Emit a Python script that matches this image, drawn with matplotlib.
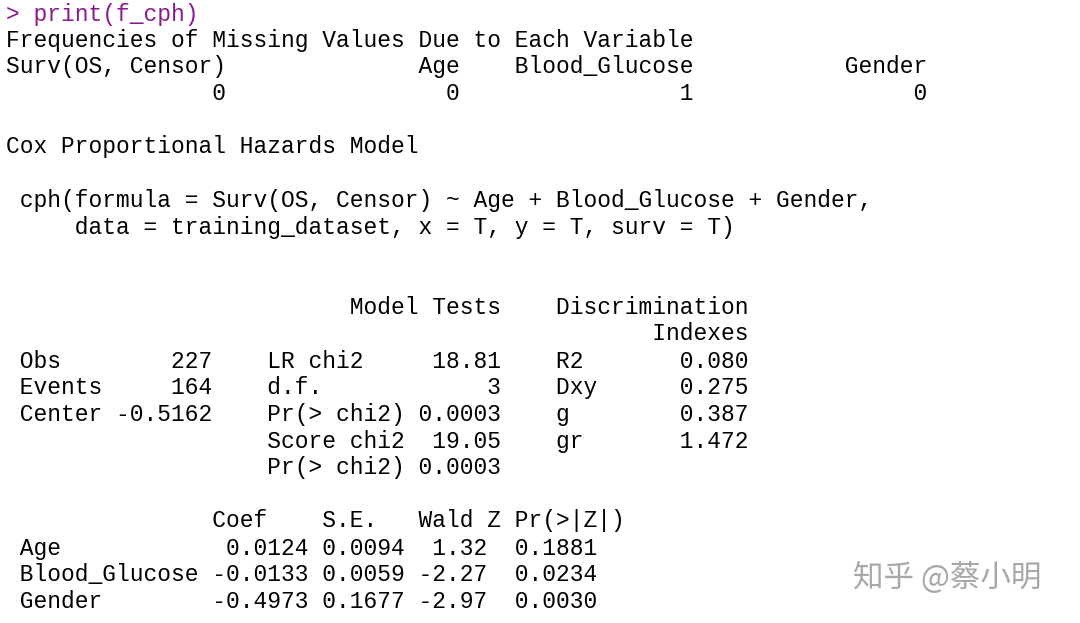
import matplotlib
matplotlib.use("Agg")
import matplotlib.pyplot as plt

# data
miss_vars = ["Surv(OS, Censor)", "Age", "Blood_Glucose", "Gender"]
miss_counts = [0, 0, 1, 0]
obs, events, center = 227, 164, -0.5162
lr_chi2, df, p_lr, score_chi2, p_score = 18.81, 3, "0.0003", 19.05, "0.0003"
disc_names = ["R2", "Dxy", "g", "gr"]
disc_vals = ["0.080", "0.275", "0.387", "1.472"]
coef_names = ["Age", "Blood_Glucose", "Gender"]
coef = ["0.0124", "-0.0133", "-0.4973"]
se = ["0.0094", "0.0059", "0.1677"]
waldz = ["1.32", "-2.27", "-2.97"]
pvals = ["0.1881", "0.0234", "0.0030"]

W, H = 1080, 623
fig = plt.figure(figsize=(W/100, H/100), dpi=100)
fig.patch.set_facecolor("white")
FS = 16.5
FAM = "Liberation Mono"

def line(y, s, color="black"):
    fig.text(6/W, 1 - y/H, s, family=FAM, fontsize=FS, color=color, va="center", ha="left")

line(14, "> print(f_cph)", "#8b1a8b")
line(40, "Frequencies of Missing Values Due to Each Variable")
line(66, miss_vars[0] + " "*14 + miss_vars[1] + " "*4 + miss_vars[2] + " "*11 + miss_vars[3])
line(93, "{:>16}{:>17}{:>17}{:>17}".format(*miss_counts))
line(147, "Cox Proportional Hazards Model")
line(201, " cph(formula = Surv(OS, Censor) ~ Age + Blood_Glucose + Gender,")
line(227, "     data = training_dataset, x = T, y = T, surv = T)")
line(307, "                         Model Tests    Discrimination")
line(334, "                                               Indexes")
left = [("Obs", str(obs)), ("Events", str(events)), ("Center", f"{center}"), ("", ""), ("", "")]
mid = [("LR chi2", f"{lr_chi2:.2f}"), ("d.f.", str(df)), ("Pr(> chi2)", p_lr),
       ("Score chi2", f"{score_chi2:.2f}"), ("Pr(> chi2)", p_score)]
for i in range(5):
    s = " " + left[i][0].ljust(6) + left[i][1].rjust(8) + "    "
    s += mid[i][0].ljust(10) + mid[i][1].rjust(7)
    if i < 4:
        s += "    " + disc_names[i].ljust(3) + disc_vals[i].rjust(11)
    line(361 + i*26.7, s)
line(521, "               Coef    S.E.   Wald Z Pr(>|Z|)")
for i in range(3):
    s = " " + coef_names[i].ljust(13) + coef[i].rjust(8) + se[i].rjust(7) + waldz[i].rjust(6) + "  " + pvals[i]
    line(548 + i*26.9, s)

fig.text(853/W, 1 - 578/H, "知乎 @蔡小明", family=["Noto Sans CJK SC", "DejaVu Sans"],
         fontsize=22, color="#a8a8a8", va="center", ha="left")
fig.savefig("out.png", dpi=100)
